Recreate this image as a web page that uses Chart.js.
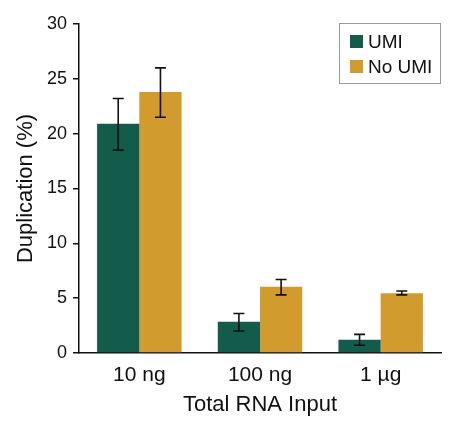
<!DOCTYPE html>
<html>
<head>
<meta charset="utf-8">
<script src="https://cdn.jsdelivr.net/npm/chart.js@4/dist/chart.umd.min.js"></script>
<style>
  html, body { margin: 0; padding: 0; background: #fff; }
  #wrap { width: 461px; height: 432px; }
</style>
</head>
<body>
<div id="wrap"><canvas id="dupChart" width="461" height="432"></canvas></div>
<script>
const categories = ["10 ng", "100 ng", "1 \u00b5g"];
const umiValues = [20.9, 2.85, 1.2];
const umiLow = [18.5, 2.0, 0.7];
const umiHigh = [23.2, 3.6, 1.7];
const noUmiValues = [23.8, 6.05, 5.45];
const noUmiLow = [21.5, 5.3, 5.3];
const noUmiHigh = [26.0, 6.7, 5.65];
const yTicks = [0, 5, 10, 15, 20, 25, 30];

const FONT = "'Liberation Sans', Arial, sans-serif";
const GREEN = "#135c4c";
const GOLD = "#d19b2d";

const ctx = document.getElementById("dupChart").getContext("2d");

// error bars drawn from the low/high arrays through the scales
const errorBars = {
  id: "errorBars",
  afterDatasetsDraw(chart) {
    const c = chart.ctx;
    const yScale = chart.scales.y;
    c.save();
    c.strokeStyle = "#111";
    c.lineWidth = 1.6;
    chart.data.datasets.forEach((ds, i) => {
      const meta = chart.getDatasetMeta(i);
      meta.data.forEach((bar, j) => {
        const x = bar.x;
        const yLo = yScale.getPixelForValue(ds.errLow[j]);
        const yHi = yScale.getPixelForValue(ds.errHigh[j]);
        c.beginPath();
        c.moveTo(x, yLo); c.lineTo(x, yHi);
        c.moveTo(x - 5.5, yLo); c.lineTo(x + 5.5, yLo);
        c.moveTo(x - 5.5, yHi); c.lineTo(x + 5.5, yHi);
        c.stroke();
      });
    });
    c.restore();
  }
};

// boxed legend in the top right corner of the plot
const boxLegend = {
  id: "boxLegend",
  afterDraw(chart) {
    const c = chart.ctx;
    const area = chart.chartArea;
    const w = 102, h = 61;
    const left = area.right - w, top = area.top - 1;
    c.save();
    c.strokeStyle = "#9a9a9a";
    c.lineWidth = 1;
    c.strokeRect(left + 0.5, top + 0.5, w - 1, h - 1);
    c.font = "19px " + FONT;
    c.textBaseline = "middle";
    chart.data.datasets.forEach((ds, i) => {
      const cy = top + 18.5 + i * 25;
      c.fillStyle = ds.backgroundColor;
      c.fillRect(left + 11, cy - 6.5, 13, 13);
      c.fillStyle = "#111";
      c.fillText(ds.label, left + 29, cy + 1);
    });
    c.restore();
  }
};

new Chart(ctx, {
  type: "bar",
  data: {
    labels: categories,
    datasets: [
      {
        label: "UMI",
        data: umiValues,
        errLow: umiLow,
        errHigh: umiHigh,
        backgroundColor: GREEN,
        barPercentage: 1.0,
        categoryPercentage: 0.7,
      },
      {
        label: "No UMI",
        data: noUmiValues,
        errLow: noUmiLow,
        errHigh: noUmiHigh,
        backgroundColor: GOLD,
        barPercentage: 1.0,
        categoryPercentage: 0.7,
      },
    ],
  },
  options: {
    responsive: false,
    animation: false,
    layout: { padding: { left: 0, right: 20, top: 24, bottom: 0 } },
    plugins: {
      legend: { display: false },
      tooltip: { enabled: false },
    },
    scales: {
      x: {
        grid: { display: false },
        border: { display: true, color: "#111", width: 1.5 },
        ticks: { color: "#111", font: { family: FONT, size: 21 }, padding: 2 },
        title: {
          display: true,
          text: "Total RNA Input",
          color: "#111",
          font: { family: FONT, size: 22 },
          padding: { top: 0, bottom: 14 },
        },
        afterFit(scale) { scale.height = 79; },
      },
      y: {
        min: 0,
        max: 30,
        afterBuildTicks(scale) { scale.ticks = yTicks.map(v => ({ value: v })); },
        grid: { display: true, drawOnChartArea: false, drawTicks: true, tickLength: 6, color: "#111", lineWidth: 1.5 },
        border: { display: true, color: "#111", width: 1.5 },
        ticks: { color: "#111", font: { family: FONT, size: 18 }, padding: 6 },
        title: {
          display: true,
          text: "Duplication (%)",
          color: "#111",
          font: { family: FONT, size: 22 },
          padding: { top: 13, bottom: 0 },
        },
        afterFit(scale) { scale.width = 79; },
      },
    },
  },
  plugins: [errorBars, boxLegend],
});
</script>
</body>
</html>
